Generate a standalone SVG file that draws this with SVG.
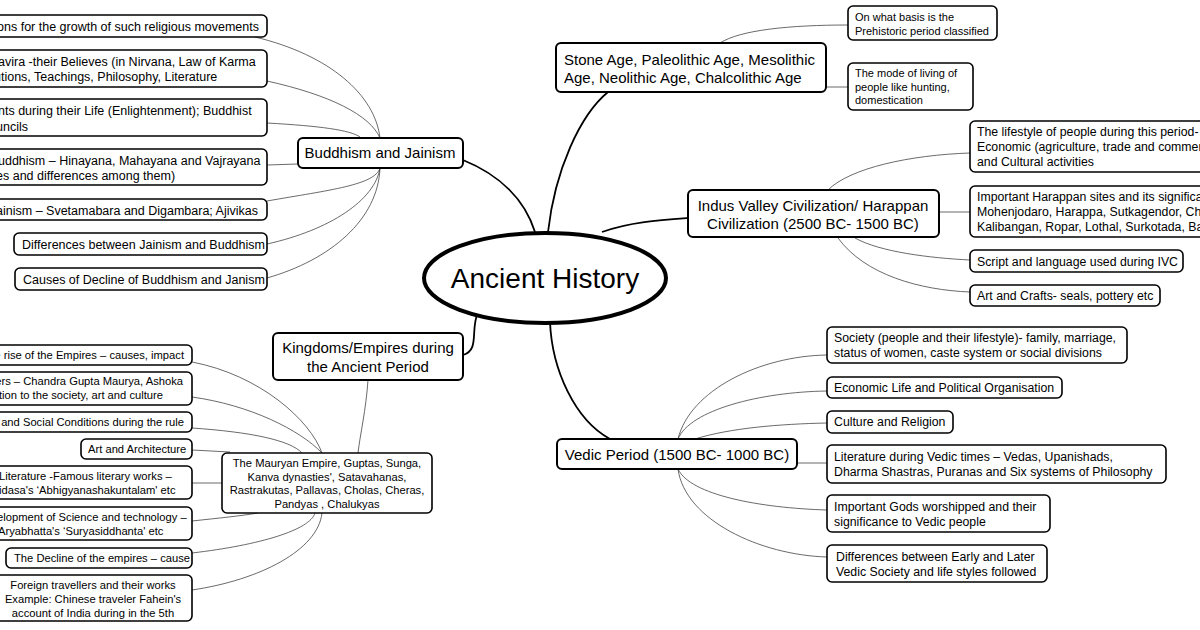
<svg xmlns="http://www.w3.org/2000/svg" width="1200" height="630" viewBox="0 0 1200 630">
<style>
.b{fill:#fff;stroke:#000;stroke-width:1.6}
.m{fill:#fff;stroke:#000;stroke-width:2}
.t{font-family:"Liberation Sans",Arial,sans-serif;font-size:12.5px;fill:#000}
.n{font-family:"Liberation Sans",Arial,sans-serif;font-size:11.2px;fill:#000}
.r{font-family:"Liberation Sans",Arial,sans-serif;font-size:12.3px;fill:#000}
.s{font-family:"Liberation Sans",Arial,sans-serif;font-size:11px;fill:#000}
.h{font-family:"Liberation Sans",Arial,sans-serif;font-size:15px;fill:#000}
.e{text-anchor:end}.c{text-anchor:middle}
.l{fill:none;stroke:#444;stroke-width:0.8}
.k{fill:none;stroke:#000;stroke-width:1.8}
</style>
<rect width="1200" height="630" fill="#fff"/>
<g id="connectors">
<path class="k" d="M463,160 C500,175 525,200 535,232"/>
<path class="k" d="M463,355 C480,350 470,330 478,312"/>
<path class="k" d="M548,232 C555,170 580,115 608,92"/>
<path class="k" d="M602,232 C630,222 660,220 688,218"/>
<path class="k" d="M550,322 C552,370 575,420 610,439"/>
<path class="l" d="M255,37 C330,55 375,95 380,138"/>
<path class="l" d="M267,81 C330,95 370,115 380,138"/>
<path class="l" d="M267,123 C320,126 350,130 360,137"/>
<path class="l" d="M267,165 L298,164"/>
<path class="l" d="M267,201 C330,190 375,185 380,168"/>
<path class="l" d="M267,244 C330,230 375,200 380,168"/>
<path class="l" d="M267,278 C330,260 378,220 380,168"/>
<path class="l" d="M368,380 C366,410 360,435 358,453"/>
<path class="l" d="M192,362 C260,375 310,420 322,453"/>
<path class="l" d="M192,397 C250,405 300,430 322,453"/>
<path class="l" d="M192,428 C250,432 290,440 302,453"/>
<path class="l" d="M192,450 L230,452"/>
<path class="l" d="M192,483 L222,483"/>
<path class="l" d="M192,521 C220,518 240,516 258,513"/>
<path class="l" d="M192,553 C260,545 310,530 315,513"/>
<path class="l" d="M192,590 C260,580 318,550 322,513"/>
<path class="l" d="M720,43 C740,30 790,25 848,25"/>
<path class="l" d="M826,87 L848,87"/>
<path class="l" d="M828,190 C850,168 910,155 970,153"/>
<path class="l" d="M939,212 L970,212"/>
<path class="l" d="M855,238 C880,252 930,258 970,260"/>
<path class="l" d="M838,238 C865,275 920,290 970,292"/>
<path class="l" d="M678,439 C690,390 760,356 827,355"/>
<path class="l" d="M678,439 C690,410 760,392 827,391"/>
<path class="l" d="M695,439 C730,428 780,424 827,423"/>
<path class="l" d="M797,463 L827,463"/>
<path class="l" d="M678,469 C690,495 760,508 827,510"/>
<path class="l" d="M678,469 C685,520 760,555 827,557"/>
</g>
<g id="center"><ellipse cx="545" cy="278" rx="121" ry="45" fill="#fff" stroke="#000" stroke-width="4"/><text x="545" y="288" class="c" font-family="Liberation Sans,Arial,sans-serif" font-size="28">Ancient History</text></g>
<g id="buddhism"><rect class="m" x="298" y="138" width="165" height="30" rx="5"/><text class="h c" x="380" y="158">Buddhism and Jainism</text></g>
<g id="b1"><rect class="b" x="-10" y="15" width="277" height="22" rx="5"/><text class="t e" x="259" y="31">sons for the growth of such religious movements</text></g>
<g id="b2"><rect class="b" x="-10" y="50" width="277" height="37" rx="5"/><text class="t" x="-2" y="66">avira -their Believes (in Nirvana, Law of Karma</text><text class="t" x="-6" y="81">utions, Teachings, Philosophy, Literature</text></g>
<g id="b3"><rect class="b" x="-10" y="99" width="277" height="37" rx="5"/><text class="t" x="-2" y="115">nts during their Life (Enlightenment); Buddhist</text><text class="t" x="-4" y="131">uncils</text></g>
<g id="b4"><rect class="b" x="-10" y="149" width="277" height="36" rx="5"/><text class="t" x="-2" y="165">uddhism – Hinayana, Mahayana and Vajrayana</text><text class="t" x="-4" y="180">es and differences among them)</text></g>
<g id="b5"><rect class="b" x="-10" y="199" width="277" height="21" rx="5"/><text class="t e" x="258" y="215">ainism – Svetamabara and Digambara; Ajivikas</text></g>
<g id="b6"><rect class="b" x="14" y="233" width="253" height="22" rx="5"/><text class="t" x="22" y="249">Differences between Jainism and Buddhism</text></g>
<g id="b7"><rect class="b" x="15" y="268" width="252" height="22" rx="5"/><text class="t" x="23" y="284">Causes of Decline of Buddhism and Janism</text></g>
<g id="kingdoms"><rect class="m" x="273" y="333" width="190" height="47" rx="5"/><text class="h c" x="368" y="353">Kingdoms/Empires during</text><text class="h c" x="368" y="372">the Ancient Period</text></g>
<g id="mauryan"><rect class="b" x="222" y="453" width="210" height="60" rx="5"/><text class="n c" x="327" y="467">The Mauryan Empire, Guptas, Sunga,</text><text class="n c" x="327" y="481">Kanva dynasties', Satavahanas,</text><text class="n c" x="327" y="494">Rastrakutas, Pallavas, Cholas, Cheras,</text><text class="n c" x="327" y="508">Pandyas , Chalukyas</text></g>
<g id="k1"><rect class="b" x="-10" y="345" width="202" height="20" rx="5"/><text class="n e" x="184" y="359">e rise of the Empires – causes, impact</text></g>
<g id="k2"><rect class="b" x="-10" y="372" width="202" height="33" rx="5"/><text class="n e" x="183" y="385">ers – Chandra Gupta Maurya, Ashoka</text><text class="n" x="-1" y="399">tion to the society, art and culture</text></g>
<g id="k3"><rect class="b" x="-10" y="412" width="202" height="20" rx="5"/><text class="n e" x="184" y="426">c and Social Conditions during the rule</text></g>
<g id="k4"><rect class="b" x="81" y="439" width="111" height="20" rx="5"/><text class="n" x="88" y="453">Art and Architecture</text></g>
<g id="k5"><rect class="b" x="-10" y="466" width="202" height="33" rx="5"/><text class="n" x="-1" y="480">Literature -Famous literary works –</text><text class="n" x="-1" y="494">idasa's ‘Abhigyanashakuntalam' etc</text></g>
<g id="k6"><rect class="b" x="-10" y="507" width="202" height="33" rx="5"/><text class="n" x="-3" y="521">elopment of Science and technology –</text><text class="n" x="-2" y="535">Aryabhatta's ‘Suryasiddhanta' etc</text></g>
<g id="k7"><rect class="b" x="6" y="548" width="186" height="20" rx="5"/><text class="n" x="14" y="562">The Decline of the empires – cause</text></g>
<g id="k8"><rect class="b" x="-10" y="575" width="202" height="46" rx="5"/><text class="n c" x="93" y="589">Foreign travellers and their works</text><text class="n c" x="93" y="603">Example: Chinese traveler Fahein's</text><text class="n c" x="93" y="617">account of India during in the 5th</text></g>
<g id="stone"><rect class="m" x="556" y="43" width="270" height="49" rx="5"/><text class="h" x="564" y="65">Stone Age, Paleolithic Age, Mesolithic</text><text class="h" x="564" y="83">Age, Neolithic Age, Chalcolithic Age</text></g>
<g id="s1"><rect class="b" x="848" y="6" width="149" height="34" rx="5"/><text class="s" x="855" y="21">On what basis is the</text><text class="s" x="855" y="35">Prehistoric period classified</text></g>
<g id="s2"><rect class="b" x="848" y="63" width="125" height="47" rx="5"/><text class="s" x="855" y="77">The mode of living of</text><text class="s" x="855" y="91">people like hunting,</text><text class="s" x="855" y="104">domestication</text></g>
<g id="indus"><rect class="m" x="688" y="190" width="251" height="47" rx="5"/><text class="h c" x="813" y="211">Indus Valley Civilization/ Harappan</text><text class="h c" x="813" y="229">Civilization (2500 BC- 1500 BC)</text></g>
<g id="i1"><rect class="b" x="970" y="121" width="240" height="51" rx="5"/><text class="r" x="977" y="136">The lifestyle of people during this period-</text><text class="r" x="977" y="151">Economic (agriculture, trade and commer</text><text class="r" x="977" y="166">and Cultural activities</text></g>
<g id="i2"><rect class="b" x="970" y="186" width="240" height="51" rx="5"/><text class="r" x="977" y="201">Important Harappan sites and its significa</text><text class="r" x="977" y="216">Mohenjodaro, Harappa, Sutkagendor, Ch</text><text class="r" x="977" y="231">Kalibangan, Ropar, Lothal, Surkotada, Ba</text></g>
<g id="i3"><rect class="b" x="970" y="250" width="213" height="22" rx="5"/><text class="r" x="977" y="266">Script and language used during IVC</text></g>
<g id="i4"><rect class="b" x="970" y="285" width="190" height="21" rx="5"/><text class="r" x="977" y="300">Art and Crafts- seals, pottery etc</text></g>
<g id="vedic"><rect class="m" x="557" y="439" width="240" height="30" rx="5"/><text class="h c" x="677" y="460">Vedic Period (1500 BC- 1000 BC)</text></g>
<g id="v1"><rect class="b" x="827" y="327" width="300" height="36" rx="5"/><text class="r" x="834" y="342">Society (people and their lifestyle)- family, marriage,</text><text class="r" x="834" y="357">status of women, caste system or social divisions</text></g>
<g id="v2"><rect class="b" x="827" y="377" width="235" height="21" rx="5"/><text class="r" x="834" y="392">Economic Life and Political Organisation</text></g>
<g id="v3"><rect class="b" x="827" y="411" width="126" height="22" rx="5"/><text class="r" x="834" y="426">Culture and Religion</text></g>
<g id="v4"><rect class="b" x="827" y="445" width="339" height="38" rx="5"/><text class="r" x="834" y="461">Literature during Vedic times – Vedas, Upanishads,</text><text class="r" x="834" y="476">Dharma Shastras, Puranas and Six systems of Philosophy</text></g>
<g id="v5"><rect class="b" x="827" y="495" width="223" height="37" rx="5"/><text class="r" x="834" y="511">Important Gods worshipped and their</text><text class="r" x="834" y="526">significance to Vedic people</text></g>
<g id="v6"><rect class="b" x="827" y="545" width="220" height="37" rx="5"/><text class="r" x="836" y="561">Differences between Early and Later</text><text class="r" x="836" y="576">Vedic Society and life styles followed</text></g>
</svg>
